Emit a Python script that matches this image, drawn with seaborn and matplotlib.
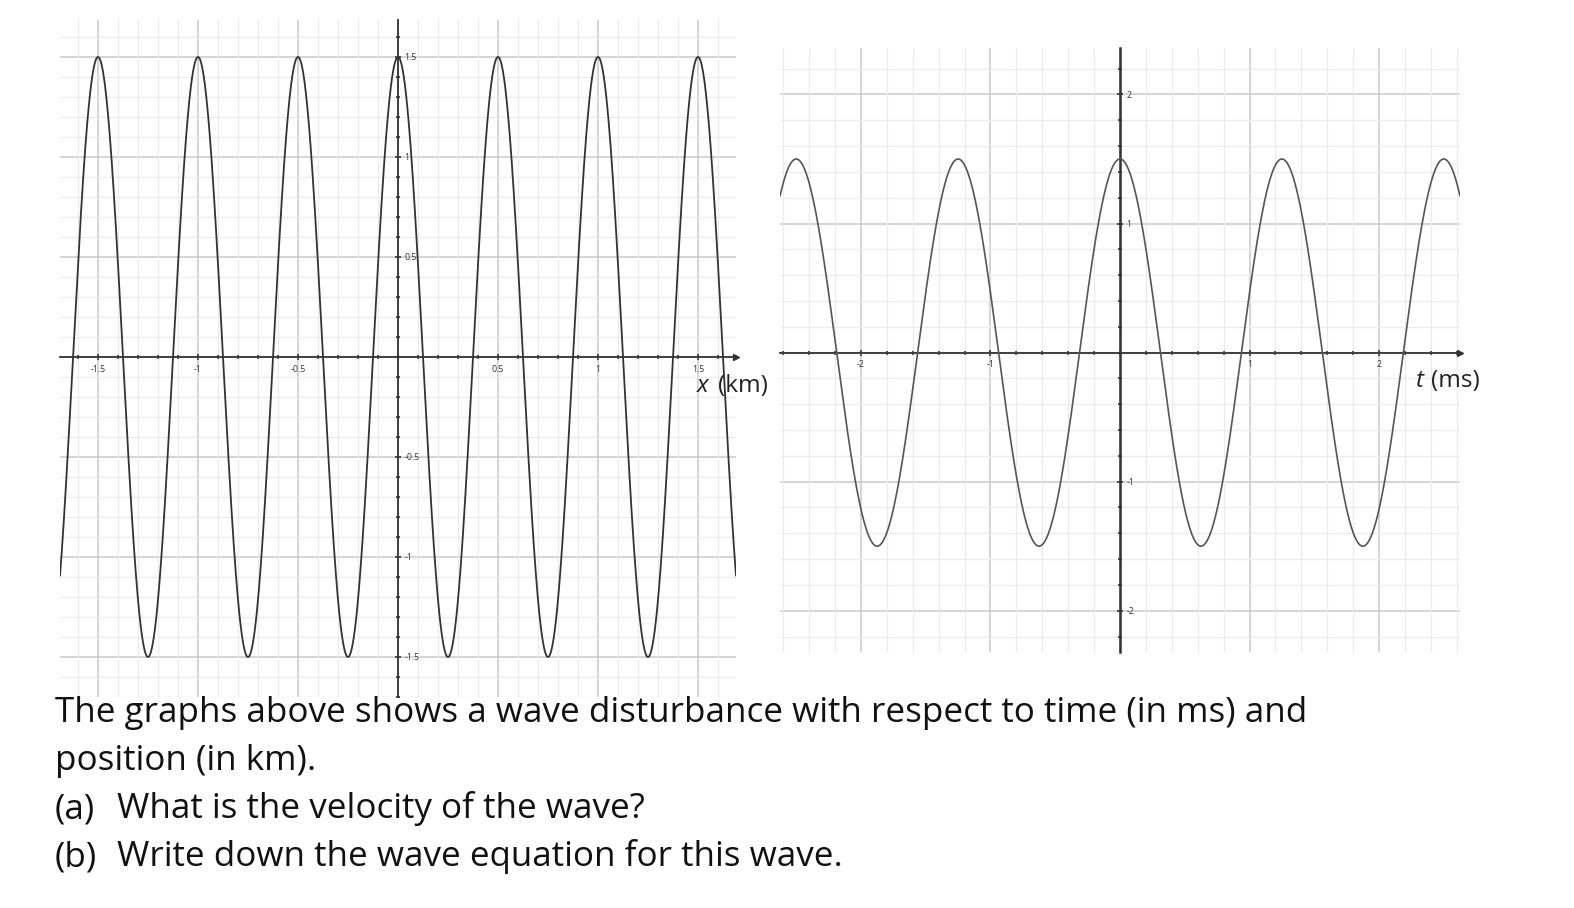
import numpy as np
import pandas as pd
import matplotlib
matplotlib.use("Agg")
import matplotlib.pyplot as plt
import seaborn as sns
from matplotlib.ticker import MultipleLocator

# Wave parameters
amplitude = 1.5          # displacement amplitude
wavelength_km = 0.5      # crest-to-crest distance in the position plot
period_ms = 1.25         # crest-to-crest time in the time plot

# Visible ranges of the two plots
x_range_km = [-1.69, 1.69]
t_range_ms = [-2.625, 2.625]

# Tick labels
x_ticks_km = [-1.5, -1, -0.5, 0.5, 1, 1.5]
x_tick_labels = ["-1.5", "-1", "-0.5", "0.5", "1", "1.5"]
y_ticks_left = [-1.5, -1, -0.5, 0.5, 1, 1.5]
y_tick_labels_left = ["-1.5", "-1", "-0.5", "0.5", "1", "1.5"]
t_ticks_ms = [-2, -1, 1, 2]
t_tick_labels = ["-2", "-1", "1", "2"]
y_ticks_right = [-2, -1, 1, 2]
y_tick_labels_right = ["-2", "-1", "1", "2"]

question_lines = [
    ("", "The graphs above shows a wave disturbance with respect to time (in ms) and"),
    ("", "position (in km)."),
    ("(a)", "What is the velocity of the wave?"),
    ("(b)", "Write down the wave equation for this wave."),
]

sns.set_style("white")
plt.rcParams["font.family"] = ["Open Sans", "DejaVu Sans"]

W, H = 1574, 908
fig = plt.figure(figsize=(W / 100, H / 100), dpi=100)


def px_axes(x0, y0, x1, y1):
    return fig.add_axes([x0 / W, 1 - y1 / H, (x1 - x0) / W, (y1 - y0) / H])


def style_graph(ax, xlim, ylim, major, minor, xticks, xlabels, yticks, ylabels):
    ax.set_xlim(*xlim)
    ax.set_ylim(*ylim)
    ax.set_facecolor("white")
    # fine grid
    ax.xaxis.set_minor_locator(MultipleLocator(minor))
    ax.yaxis.set_minor_locator(MultipleLocator(minor))
    ax.grid(which="minor", color="#ebebeb", linewidth=0.9, zorder=0)
    ax.set_axisbelow(True)
    # coarse grid at every multiple of `major`
    gx = np.arange(np.ceil(xlim[0] / major) * major, xlim[1] + 1e-9, major)
    gy = np.arange(np.ceil(ylim[0] / major) * major, ylim[1] + 1e-9, major)
    for v in gx:
        ax.axvline(v, color="#c9c9c9", linewidth=1.1, zorder=0.5)
    for v in gy:
        ax.axhline(v, color="#c9c9c9", linewidth=1.1, zorder=0.5)
    # axes through the origin
    for s in ["top", "left"]:
        ax.spines[s].set_visible(False)
    ax.spines["bottom"].set_position(("data", 0))
    ax.spines["right"].set_position(("data", 0))
    for s in ["bottom", "right"]:
        ax.spines[s].set_color("#333333")
        ax.spines[s].set_linewidth(1.3)
        ax.spines[s].set_zorder(2)
    ax.yaxis.set_ticks_position("right")
    ax.xaxis.set_ticks_position("bottom")
    ax.set_xticks(xticks, labels=xlabels)
    ax.set_yticks(yticks, labels=ylabels)
    ax.tick_params(which="both", direction="inout", colors="#333333",
                   labelsize=6.3, labelcolor="#333333")
    ax.tick_params(which="major", length=5, width=1.2)
    ax.tick_params(which="minor", length=3.5, width=1.2)
    ax.tick_params(axis="x", which="major", pad=3)
    ax.tick_params(axis="y", which="major", pad=2)
    ax.set_xlabel("")
    ax.set_ylabel("")
    # arrow head at the end of the horizontal axis
    ax.plot(1.0, 0, marker=">", color="#333333", markersize=5,
            transform=ax.get_yaxis_transform(), clip_on=False, zorder=5)


# ---- displacement versus position ----
x_km = np.linspace(x_range_km[0], x_range_km[1], 3000)
df_x = pd.DataFrame({"x": x_km,
                     "y": amplitude * np.cos(2 * np.pi * x_km / wavelength_km)})
ax1 = px_axes(60, 20, 736, 697)
sns.lineplot(data=df_x, x="x", y="y", ax=ax1, color="#333333",
             linewidth=1.3, zorder=3)
style_graph(ax1, x_range_km, (-1.7, 1.685), 0.5, 0.1,
            x_ticks_km, x_tick_labels, y_ticks_left, y_tick_labels_left)

# ---- displacement versus time ----
t_ms = np.linspace(t_range_ms[0], t_range_ms[1], 3000)
df_t = pd.DataFrame({"t": t_ms,
                     "y": amplitude * np.cos(2 * np.pi * t_ms / period_ms)})
ax2 = px_axes(780, 48, 1460, 652)
sns.lineplot(data=df_t, x="t", y="y", ax=ax2, color="#555555",
             linewidth=1.2, zorder=3)
style_graph(ax2, t_range_ms, (-2.32, 2.36), 1.0, 0.2,
            t_ticks_ms, t_tick_labels, y_ticks_right, y_tick_labels_right)
ax2.spines["right"].set_linewidth(1.8)

# axis titles
title_kw = dict(fontsize=17.5, va="center", ha="left", color="#222222")
fig.text(697 / W, 1 - 386 / H, "x", style="italic", **title_kw)
fig.text(718 / W, 1 - 386 / H, "(km)", **title_kw)
fig.text(1416 / W, 1 - 381 / H, "t", style="italic", **title_kw)
fig.text(1431 / W, 1 - 381 / H, "(ms)", **title_kw)

# question text
baselines = [722, 770, 818, 866]
text_kw = dict(fontsize=25.2, va="baseline", ha="left", color="#111111")
for (tag, line), yb in zip(question_lines, baselines):
    if tag:
        fig.text(55 / W, 1 - yb / H, tag, **text_kw)
        fig.text(117 / W, 1 - yb / H, line, **text_kw)
    else:
        fig.text(55 / W, 1 - yb / H, line, **text_kw)

fig.savefig("out.png", dpi=100, facecolor="white")
